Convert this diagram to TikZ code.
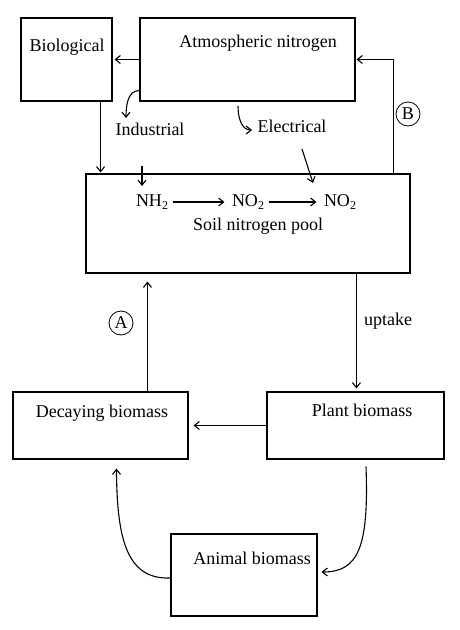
\documentclass[tikz,border=0pt]{standalone}
\usepackage{fontspec}
\setmainfont{Liberation Serif}
\usetikzlibrary{arrows.meta,calc}
\newcommand{\low}[1]{\raisebox{-0.35ex}{\fontsize{12}{14}\selectfont #1}}
\begin{document}
\begin{tikzpicture}[x=1pt, y=-1pt, line width=1.1pt, >={Straight Barb[length=5pt,width=8pt]},
    font=\fontsize{18}{21}\selectfont,
    box/.style 2 args={draw, minimum width=#1, minimum height=#2, inner sep=0pt},
    lbl/.style={inner sep=0pt},
    tag/.style={draw, circle, line width=0.8pt, minimum size=24pt, inner sep=0pt}]
    \useasboundingbox (0,0) rectangle (459,630);

    % 1. Kaesten
    \node[box={91pt}{83pt}] (bio) at (66.5,59.5) {};
    \node[box={215pt}{83pt}] (atm) at (247.5,59.5) {};
    \node[box={324pt}{99pt}] (soil) at (248,223.5) {};
    \node[box={175pt}{67pt}] (dec) at (100.5,425.5) {};
    \node[box={177pt}{67pt}] (plant) at (355.5,425.5) {};
    \node[box={146pt}{82pt}] (anim) at (244,575) {};

    % 2. Beschriftungen
    \node[lbl] (tbio) at (67,47) {Biological};
    \node[lbl] (tatm) at (258,43) {Atmospheric nitrogen};
    \node[lbl] (tind) at (150,129) {Industrial};
    \node[lbl] (tele) at (292,126) {Electrical};
    \node[lbl] (nh) at (152,202) {NH\low{2}};
    \node[lbl] (noa) at (248,202) {NO\low{2}};
    \node[lbl] (nob) at (340,202) {NO\low{2}};
    \node[lbl] (tsoil) at (258,226) {Soil nitrogen pool};
    \node[lbl] (tup) at (388,321) {uptake};
    \node[lbl] (tdec) at (102,413) {Decaying biomass};
    \node[lbl] (tplant) at (362,410) {Plant biomass};
    \node[lbl] (tanim) at (252,558) {Animal biomass};
    \node[tag] (ta) at (121,323) {A};
    \node[tag] (tb) at (408,114) {B};

    % 3. Hilfspunkte
    \coordinate (indS) at ($(atm.west)+(0,31)$);
    \coordinate (indE) at (126,118);
    \coordinate (elS) at (238,106);
    \coordinate (elE) at (252,130);
    \coordinate (elA) at (302,149);
    \coordinate (elB) at (313,183);
    \coordinate (indA) at (142,166);
    \coordinate (indB) at (142,186);
    \coordinate (bioOut) at ($(bio.south east)+(-12,0)$);
    \coordinate (bOut) at ($(soil.north east)+(-17,0)$);
    \coordinate (aOut) at ($(dec.north west)+(135,0)$);
    \coordinate (upIn) at ($(soil.south west)+(271,0)$);
    \coordinate (plOut) at ($(plant.south)+(10.5,7)$);
    \coordinate (anIn) at ($(anim.east)+(4,-3)$);
    \coordinate (anOut) at ($(anim.west)+(0,3)$);
    \coordinate (decIn) at ($(dec.south west)+(104,9)$);

    % 4. Pfeile oben
    \draw[->, shorten >=2pt] (atm.west) -- (bio.east);
    \draw[->] (indS) to[out=180, in=90] (indE);
    \draw[->] (elS) to[out=-90, in=180] (elE);
    \draw[->] (elA) -- (elB);
    \draw[->] (indA) -- (indB);
    \draw[->, shorten >=1pt] (bioOut) -- (bioOut |- soil.north);
    \draw[->, shorten >=1pt] (bOut) |- (atm.east);
    \draw[->, shorten <=4pt, shorten >=7pt] (nh) -- (noa);
    \draw[->, shorten <=4pt, shorten >=7pt] (noa) -- (nob);

    % 5. Pfeile unten
    \draw[->, shorten >=8pt] (aOut) -- (aOut |- soil.south);
    \draw[->, shorten >=3pt] (upIn) -- (upIn |- plant.north);
    \draw[->, shorten >=5pt] (plant.west) -- (dec.east);
    \draw[->] (plOut) .. controls (369,548) and (358,572) .. (anIn);
    \draw[->] (anOut) .. controls (125,580) and (117,535) .. (decIn);
\end{tikzpicture}
\end{document}
